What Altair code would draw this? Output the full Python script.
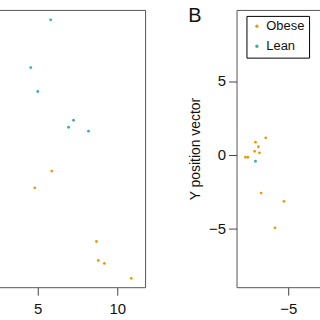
import altair as alt
import pandas as pd

FONT = "Liberation Sans"
ORANGE = "#E69F00"
TEAL = "#3AAFA9"

# Left panel: embedding coordinates per sample
a_lean_x = [5.81, 4.56, 5.00, 7.25, 6.94, 8.19]
a_lean_y = [9.32, 6.05, 4.41, 2.44, 1.96, 1.69]
a_obese_x = [5.88, 4.81, 8.69, 8.81, 9.19, 10.88]
a_obese_y = [-1.04, -2.19, -5.87, -7.17, -7.37, -8.39]

# Panel B: X / Y position vectors
b_obese_x = [-6.51, -7.20, -7.00, -7.25, -6.93, -7.87, -7.71, -6.82, -5.29, -5.89]
b_obese_y = [1.16, 0.87, 0.56, 0.25, 0.15, -0.15, -0.15, -2.57, -3.13, -4.92]
b_lean_x = [-7.20]
b_lean_y = [-0.42]

groups = ["Obese", "Lean"]

df_a = pd.DataFrame({
    "x": a_obese_x + a_lean_x,
    "y": a_obese_y + a_lean_y,
    "group": ["Obese"] * len(a_obese_x) + ["Lean"] * len(a_lean_x),
})
df_b = pd.DataFrame({
    "x": b_obese_x + b_lean_x,
    "y": b_obese_y + b_lean_y,
    "group": ["Obese"] * len(b_obese_x) + ["Lean"] * len(b_lean_x),
})

color_scale = alt.Scale(domain=groups, range=[ORANGE, TEAL])

tick_axis = dict(
    domain=False, ticks=True, tickSize=8, tickColor="#444", tickWidth=1,
    labelFont=FONT, labelFontSize=15, labelColor="#111", grid=False,
)

left = alt.Chart(df_a).mark_circle(size=8, opacity=1).encode(
    x=alt.X("x:Q", scale=alt.Scale(domain=[2, 11.75], nice=False, zero=False),
            axis=alt.Axis(values=[5, 10], title=None, labelPadding=6, **tick_axis)),
    y=alt.Y("y:Q", scale=alt.Scale(domain=[-9, 10], nice=False, zero=False), axis=None),
    color=alt.Color("group:N", scale=color_scale, legend=None),
).properties(width=156, height=279)

points_b = alt.Chart(df_b).mark_circle(size=8, opacity=1).encode(
    x=alt.X("x:Q", scale=alt.Scale(domain=[-8.47, -2.27], nice=False, zero=False),
            axis=alt.Axis(values=[-5], title=None, labelPadding=6, **tick_axis)),
    y=alt.Y("y:Q", scale=alt.Scale(domain=[-8.93, 9.8], nice=False, zero=False),
            axis=alt.Axis(values=[-5, 0, 5], title="Y position vector",
                          titleFont=FONT, titleFontSize=14, titleFontWeight="normal",
                          titleColor="#111", titlePadding=6, labelPadding=3, **tick_axis)),
    color=alt.Color("group:N", scale=color_scale, sort=groups,
                    legend=alt.Legend(title=None, orient="none", legendX=10, legendY=6,
                                      strokeColor="black", fillColor="white", padding=4,
                                      cornerRadius=0, symbolType="circle", symbolSize=12,
                                      symbolStrokeWidth=0, labelFont=FONT, labelFontSize=13,
                                      labelColor="#111", rowPadding=6, labelOffset=3)),
)

label_b = alt.Chart(pd.DataFrame({"t": ["B"]})).mark_text(
    font=FONT, fontSize=20, align="center", baseline="middle", color="#111"
).encode(text="t:N", x=alt.value(-42), y=alt.value(6))

right = alt.layer(points_b, label_b).properties(width=93, height=279)

chart = alt.hconcat(left, right, spacing=92, bounds="flush").resolve_legend(
    color="independent"
).configure_view(stroke="#555", strokeWidth=1).properties(
    padding={"left": -11, "top": 4, "right": -10, "bottom": 2},
    background="white",
)

chart.save("out.html", embed_options={"renderer": "svg", "actions": False})
